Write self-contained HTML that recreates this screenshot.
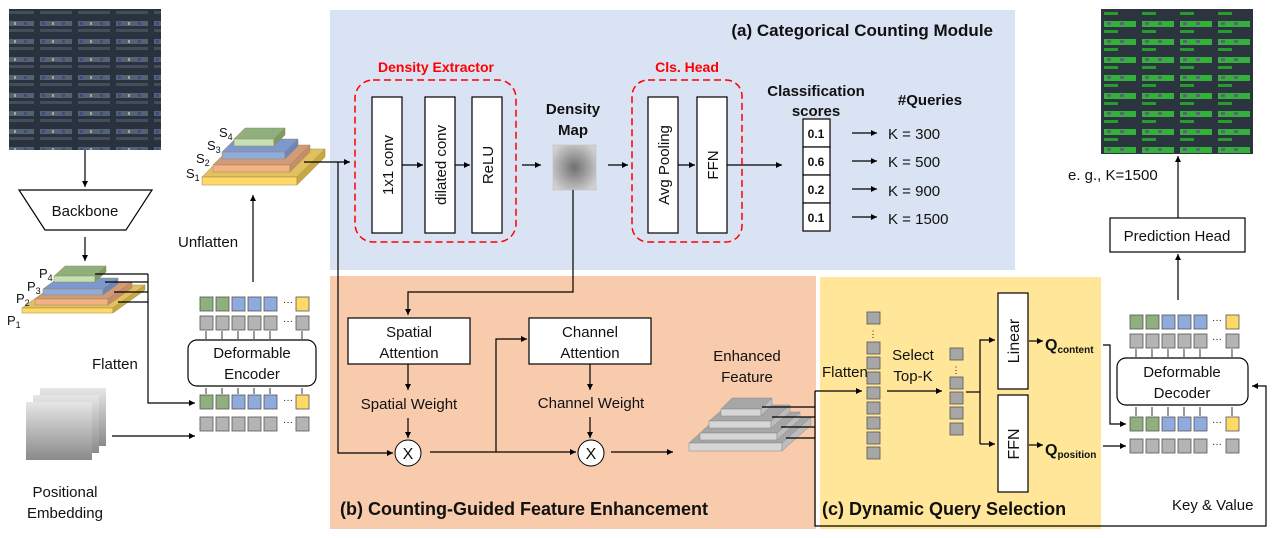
<!DOCTYPE html>
<html><head><meta charset="utf-8"><style>
html,body{margin:0;padding:0;background:#fff;}
svg{display:block;font-family:"Liberation Sans",sans-serif;font-size:14px;}
.t{font-family:"Liberation Sans",sans-serif;}
.b{font-weight:bold;}
</style></head><body>
<svg width="1275" height="538" viewBox="0 0 1275 538" xmlns="http://www.w3.org/2000/svg" fill="#111">
<defs>
<marker id="a" markerWidth="8" markerHeight="8" refX="6" refY="3" orient="auto" markerUnits="userSpaceOnUse"><path d="M0,0 L6,3 L0,6 z" fill="#000"/></marker>
<radialGradient id="dm" cx="0.5" cy="0.5" r="0.6"><stop offset="0" stop-color="#707070"/><stop offset="1" stop-color="#d0d0d0"/></radialGradient>
<linearGradient id="pe" x1="0" y1="0" x2="0" y2="1"><stop offset="0" stop-color="#e6e6e6"/><stop offset="1" stop-color="#8a8a8a"/></linearGradient>
<pattern id="sat" width="38" height="18" patternUnits="userSpaceOnUse"><rect width="38" height="18" fill="#2c3440"/><rect x="2" y="3" width="32" height="5" fill="#6a7482"/><rect x="4" y="4" width="3" height="3" fill="#3a5aa8"/><rect x="14" y="4" width="2" height="3" fill="#c8ccd0"/><rect x="24" y="4" width="3" height="3" fill="#3a5aa8"/><rect x="2" y="11" width="32" height="3" fill="#505866"/></pattern>
<pattern id="det" width="38" height="18" patternUnits="userSpaceOnUse"><rect width="38" height="18" fill="#303840"/><rect x="2" y="3" width="32" height="6" fill="#3ad43a"/><rect x="5" y="4" width="4" height="3" fill="#6a7482"/><rect x="18" y="4" width="4" height="3" fill="#6a7482"/><rect x="2" y="12" width="14" height="3" fill="#2bb82b"/></pattern>
</defs>

<rect x="330" y="10" width="685" height="260" fill="#dae3f3"/>
<rect x="330" y="276" width="486" height="253" fill="#f8cbad"/>
<rect x="820" y="277" width="281" height="252" fill="#ffe699"/>

<rect x="9" y="9" width="152" height="141" fill="url(#sat)"/>
<rect x="9" y="9" width="152" height="141" fill="#1e2a3a" opacity="0.25"/>
<line x1="85" y1="150" x2="85" y2="187" stroke="#000" stroke-width="1.2" marker-end="url(#a)"/>
<polygon points="19,190 152,190 126,230 45,230" fill="#fff" stroke="#000" stroke-width="1.2"/>
<text x="85" y="216" text-anchor="middle" font-size="15">Backbone</text>
<line x1="85" y1="237" x2="85" y2="261" stroke="#000" stroke-width="1.2" marker-end="url(#a)"/>

<g stroke="#9a8a50" stroke-width="0.5">
<polygon points="22,308 113,308 145,285 54,285" fill="#e0c060"/><rect x="22" y="308" width="91" height="5" fill="#ffd966"/><polygon points="113,308 145,285 145,290 113,313" fill="#c8a840"/>
<polygon points="35,299 108,299 132,282 59,282" fill="#d29a78"/><rect x="35" y="299" width="73" height="6" fill="#f4b183"/><polygon points="108,299 132,282 132,288 108,305" fill="#c88c68"/>
<polygon points="43,289 103,289 118,278 58,278" fill="#7d98cc"/><rect x="43" y="289" width="60" height="6" fill="#8faadc"/><polygon points="103,289 118,278 118,284 103,295" fill="#6a86c0"/>
<polygon points="54,276 95,276 106,266 65,266" fill="#8fb07e"/><rect x="54" y="276" width="41" height="6" fill="#c5e0b4"/><polygon points="95,276 106,266 106,272 95,282" fill="#7a9c6a"/>
</g>
<text x="7" y="325" font-size="13">P<tspan font-size="9" dy="3">1</tspan></text>
<text x="16" y="303" font-size="13">P<tspan font-size="9" dy="3">2</tspan></text>
<text x="27" y="291" font-size="13">P<tspan font-size="9" dy="3">3</tspan></text>
<text x="39" y="278" font-size="13">P<tspan font-size="9" dy="3">4</tspan></text>
<g stroke="#000" stroke-width="1.2" fill="none">
<polyline points="95,274 148,274"/><polyline points="105,282 148,282"/><polyline points="114,292 148,292"/><polyline points="118,302 148,302"/>
<polyline points="148,274 148,403 195,403" marker-end="url(#a)"/>
<line x1="112" y1="436" x2="195" y2="436" marker-end="url(#a)"/>
</g>
<text x="92" y="369" font-size="15">Flatten</text>

<rect x="40" y="388" width="66" height="58" fill="url(#pe)"/>
<rect x="33" y="395" width="66" height="58" fill="url(#pe)"/>
<rect x="26" y="402" width="66" height="58" fill="url(#pe)"/>
<text x="65" y="497" text-anchor="middle" font-size="15">Positional</text>
<text x="65" y="518" text-anchor="middle" font-size="15">Embedding</text>

<g stroke="#555" stroke-width="0.8">
<rect x="200" y="297" width="13" height="14" fill="#8fb07e"/><rect x="216" y="297" width="13" height="14" fill="#8fb07e"/><rect x="232" y="297" width="13" height="14" fill="#8faadc"/><rect x="248" y="297" width="13" height="14" fill="#8faadc"/><rect x="264" y="297" width="13" height="14" fill="#8faadc"/><rect x="296" y="297" width="13" height="14" fill="#ffd966"/>
<rect x="200" y="316" width="13" height="14" fill="#b4b4b4"/><rect x="216" y="316" width="13" height="14" fill="#b4b4b4"/><rect x="232" y="316" width="13" height="14" fill="#b4b4b4"/><rect x="248" y="316" width="13" height="14" fill="#b4b4b4"/><rect x="264" y="316" width="13" height="14" fill="#b4b4b4"/><rect x="296" y="316" width="13" height="14" fill="#b4b4b4"/>
<rect x="200" y="395" width="13" height="14" fill="#8fb07e"/><rect x="216" y="395" width="13" height="14" fill="#8fb07e"/><rect x="232" y="395" width="13" height="14" fill="#8faadc"/><rect x="248" y="395" width="13" height="14" fill="#8faadc"/><rect x="264" y="395" width="13" height="14" fill="#8faadc"/><rect x="296" y="395" width="13" height="14" fill="#ffd966"/>
<rect x="200" y="417" width="13" height="14" fill="#b4b4b4"/><rect x="216" y="417" width="13" height="14" fill="#b4b4b4"/><rect x="232" y="417" width="13" height="14" fill="#b4b4b4"/><rect x="248" y="417" width="13" height="14" fill="#b4b4b4"/><rect x="264" y="417" width="13" height="14" fill="#b4b4b4"/><rect x="296" y="417" width="13" height="14" fill="#b4b4b4"/>
</g>
<text x="283" y="305" font-size="10">···</text><text x="283" y="324" font-size="10">···</text><text x="283" y="403" font-size="10">···</text><text x="283" y="425" font-size="10">···</text>
<rect x="188" y="340" width="128" height="46" rx="9" fill="#fff" stroke="#000" stroke-width="1.2"/>
<text x="252" y="358" text-anchor="middle" font-size="15">Deformable</text>
<text x="252" y="379" text-anchor="middle" font-size="15">Encoder</text>
<g stroke="#000" stroke-width="0.8">
<line x1="206" y1="394" x2="206" y2="388"/><line x1="222" y1="394" x2="222" y2="388"/><line x1="238" y1="394" x2="238" y2="388"/><line x1="254" y1="394" x2="254" y2="388"/><line x1="270" y1="394" x2="270" y2="388"/><line x1="302" y1="394" x2="302" y2="388"/>
<line x1="206" y1="339" x2="206" y2="331"/><line x1="222" y1="339" x2="222" y2="331"/><line x1="238" y1="339" x2="238" y2="331"/><line x1="254" y1="339" x2="254" y2="331"/><line x1="270" y1="339" x2="270" y2="331"/><line x1="302" y1="339" x2="302" y2="331"/>
</g>
<line x1="253" y1="282" x2="253" y2="195" stroke="#000" stroke-width="1.2" marker-end="url(#a)"/>
<text x="178" y="247" font-size="15">Unflatten</text>

<g stroke="#9a8a50" stroke-width="0.5">
<polygon points="202,177 297,177 325,149 230,149" fill="#e0c060"/><rect x="202" y="177" width="95" height="8" fill="#ffd966"/><polygon points="297,177 325,149 325,157 297,185" fill="#c8a840"/>
<polygon points="213,165 290,165 310,145 233,145" fill="#d29a78"/><rect x="213" y="165" width="77" height="7" fill="#f4b183"/><polygon points="290,165 310,145 310,152 290,172" fill="#c88c68"/>
<polygon points="222,152 285,152 298,139 235,139" fill="#7d98cc"/><rect x="222" y="152" width="63" height="7" fill="#8faadc"/><polygon points="285,152 298,139 298,146 285,159" fill="#6a86c0"/>
<polygon points="234,139 274,139 285,128 245,128" fill="#8fb07e"/><rect x="234" y="139" width="40" height="7" fill="#c5e0b4"/><polygon points="274,139 285,128 285,135 274,146" fill="#7a9c6a"/>
</g>
<text x="186" y="178" font-size="13">S<tspan font-size="9" dy="3">1</tspan></text>
<text x="196" y="163" font-size="13">S<tspan font-size="9" dy="3">2</tspan></text>
<text x="207" y="150" font-size="13">S<tspan font-size="9" dy="3">3</tspan></text>
<text x="219" y="137" font-size="13">S<tspan font-size="9" dy="3">4</tspan></text>
<g stroke="#000" stroke-width="1.2" fill="none">
<polyline points="304,162 350,162" marker-end="url(#a)"/>
<polyline points="338,162 338,453 393,453" marker-end="url(#a)"/>
</g>

<text class="b" x="993" y="36" text-anchor="end" font-size="17">(a) Categorical Counting Module</text>
<text class="b" x="436" y="72" text-anchor="middle" font-size="14" fill="#f00">Density Extractor</text>
<rect x="355" y="80" width="161" height="162" rx="18" fill="none" stroke="#f00" stroke-width="1.5" stroke-dasharray="7,4"/>
<g fill="#fff" stroke="#000" stroke-width="1.2">
<rect x="372" y="97" width="30" height="136"/><rect x="425" y="97" width="30" height="136"/><rect x="472" y="97" width="30" height="136"/>
<rect x="648" y="97" width="30" height="136"/><rect x="697" y="97" width="30" height="136"/>
</g>
<text transform="translate(393,165) rotate(-90)" text-anchor="middle" font-size="15">1x1 conv</text>
<text transform="translate(446,165) rotate(-90)" text-anchor="middle" font-size="15">dilated conv</text>
<text transform="translate(493,165) rotate(-90)" text-anchor="middle" font-size="15">ReLU</text>
<text transform="translate(669,165) rotate(-90)" text-anchor="middle" font-size="15">Avg Pooling</text>
<text transform="translate(718,165) rotate(-90)" text-anchor="middle" font-size="15">FFN</text>
<g stroke="#000" stroke-width="1.2">
<line x1="402" y1="165" x2="423" y2="165" marker-end="url(#a)"/><line x1="455" y1="165" x2="470" y2="165" marker-end="url(#a)"/>
<line x1="522" y1="165" x2="541" y2="165" marker-end="url(#a)"/><line x1="608" y1="165" x2="628" y2="165" marker-end="url(#a)"/>
<line x1="678" y1="165" x2="695" y2="165" marker-end="url(#a)"/><line x1="727" y1="165" x2="782" y2="165" marker-end="url(#a)"/>
</g>
<text class="b" x="573" y="114" text-anchor="middle" font-size="15">Density</text>
<text class="b" x="573" y="135" text-anchor="middle" font-size="15">Map</text>
<rect x="553" y="145" width="43" height="45" fill="url(#dm)" stroke="#bbb" stroke-width="0.5"/>
<text class="b" x="687" y="72" text-anchor="middle" font-size="14" fill="#f00">Cls. Head</text>
<rect x="632" y="80" width="110" height="162" rx="16" fill="none" stroke="#f00" stroke-width="1.5" stroke-dasharray="7,4"/>
<text class="b" x="816" y="96" text-anchor="middle" font-size="15">Classification</text>
<text class="b" x="816" y="116" text-anchor="middle" font-size="15">scores</text>
<text class="b" x="930" y="105" text-anchor="middle" font-size="15">#Queries</text>
<g fill="#fff" stroke="#000" stroke-width="1.2">
<rect x="803" y="119" width="27" height="28"/><rect x="803" y="147" width="27" height="28"/><rect x="803" y="175" width="27" height="28"/><rect x="803" y="203" width="27" height="28"/>
</g>
<text class="b" x="816" y="138" text-anchor="middle" font-size="12">0.1</text><text class="b" x="816" y="166" text-anchor="middle" font-size="12">0.6</text><text class="b" x="816" y="194" text-anchor="middle" font-size="12">0.2</text><text class="b" x="816" y="222" text-anchor="middle" font-size="12">0.1</text>
<g stroke="#000" stroke-width="1.2">
<line x1="852" y1="133" x2="877" y2="133" marker-end="url(#a)"/><line x1="852" y1="161" x2="877" y2="161" marker-end="url(#a)"/><line x1="852" y1="189" x2="877" y2="189" marker-end="url(#a)"/><line x1="852" y1="217" x2="877" y2="217" marker-end="url(#a)"/>
</g>
<text x="888" y="139" font-size="15">K = 300</text><text x="888" y="167" font-size="15">K = 500</text><text x="888" y="196" font-size="15">K = 900</text><text x="888" y="224" font-size="15">K = 1500</text>

<polyline points="573,190 573,292 408,292 408,315" fill="none" stroke="#000" stroke-width="1.2" marker-end="url(#a)"/>
<rect x="348" y="318" width="122" height="46" fill="#fff" stroke="#000" stroke-width="1.2"/>
<text x="409" y="337" text-anchor="middle" font-size="15">Spatial</text>
<text x="409" y="358" text-anchor="middle" font-size="15">Attention</text>
<line x1="408" y1="364" x2="408" y2="390" stroke="#000" stroke-width="1.2" marker-end="url(#a)"/>
<text x="409" y="409" text-anchor="middle" font-size="15">Spatial Weight</text>
<line x1="408" y1="418" x2="408" y2="438" stroke="#000" stroke-width="1.2" marker-end="url(#a)"/>
<circle cx="408" cy="453" r="13" fill="#fff" stroke="#000"/>
<text x="408" y="459" text-anchor="middle" font-size="16">X</text>
<rect x="529" y="318" width="122" height="46" fill="#fff" stroke="#000" stroke-width="1.2"/>
<text x="590" y="337" text-anchor="middle" font-size="15">Channel</text>
<text x="590" y="358" text-anchor="middle" font-size="15">Attention</text>
<line x1="590" y1="364" x2="590" y2="390" stroke="#000" stroke-width="1.2" marker-end="url(#a)"/>
<text x="591" y="408" text-anchor="middle" font-size="15">Channel Weight</text>
<line x1="590" y1="417" x2="590" y2="438" stroke="#000" stroke-width="1.2" marker-end="url(#a)"/>
<circle cx="591" cy="453" r="13" fill="#fff" stroke="#000"/>
<text x="591" y="459" text-anchor="middle" font-size="16">X</text>
<g stroke="#000" stroke-width="1.2" fill="none">
<line x1="430" y1="452" x2="576" y2="452" marker-end="url(#a)"/>
<polyline points="496,452 496,339 527,339" marker-end="url(#a)"/>
<line x1="611" y1="452" x2="673" y2="452" marker-end="url(#a)"/>
</g>
<text x="747" y="361" text-anchor="middle" font-size="15">Enhanced</text>
<text x="747" y="382" text-anchor="middle" font-size="15">Feature</text>
<g stroke="#888" stroke-width="0.5">
<polygon points="689,443 782,443 811,417 718,417" fill="#a6a6a6"/><rect x="689" y="443" width="93" height="8" fill="#d6d6d6"/><polygon points="782,443 811,417 811,425 782,451" fill="#bdbdbd"/>
<polygon points="700,433 777,433 800,412 723,412" fill="#a6a6a6"/><rect x="700" y="433" width="77" height="7" fill="#d6d6d6"/><polygon points="777,433 800,412 800,419 777,440" fill="#bdbdbd"/>
<polygon points="709,421 771,421 790,405 728,405" fill="#a6a6a6"/><rect x="709" y="421" width="62" height="7" fill="#d6d6d6"/><polygon points="771,421 790,405 790,412 771,428" fill="#bdbdbd"/>
<polygon points="721,409 761,409 772,398 732,398" fill="#a6a6a6"/><rect x="721" y="409" width="40" height="7" fill="#d6d6d6"/><polygon points="761,409 772,398 772,405 761,416" fill="#bdbdbd"/>
</g>
<g stroke="#000" stroke-width="1.2" fill="none">
<line x1="762" y1="407" x2="815" y2="407"/><line x1="772" y1="417" x2="815" y2="417"/><line x1="781" y1="427" x2="815" y2="427"/><line x1="786" y1="438" x2="815" y2="438"/>
<polyline points="815,391 815,526 1266,526 1266,386 1252,386" marker-end="url(#a)"/>
<line x1="815" y1="391" x2="862" y2="391" marker-end="url(#a)"/>
</g>
<text class="b" x="340" y="515" font-size="18">(b) Counting-Guided Feature Enhancement</text>
<text x="822" y="377" font-size="15">Flatten</text>

<g fill="#a6a6a6" stroke="#555" stroke-width="0.8">
<rect x="867" y="312" width="13" height="12"/>
<rect x="867" y="342" width="13" height="12"/><rect x="867" y="357" width="13" height="12"/><rect x="867" y="372" width="13" height="12"/><rect x="867" y="387" width="13" height="12"/><rect x="867" y="402" width="13" height="12"/><rect x="867" y="417" width="13" height="12"/><rect x="867" y="432" width="13" height="12"/><rect x="867" y="447" width="13" height="12"/>
<rect x="950" y="348" width="13" height="12"/><rect x="950" y="377" width="13" height="12"/><rect x="950" y="392" width="13" height="12"/><rect x="950" y="407" width="13" height="12"/><rect x="950" y="423" width="13" height="12"/>
</g>
<text x="873" y="337" text-anchor="middle" font-size="9">⋮</text>
<text x="956" y="373" text-anchor="middle" font-size="9">⋮</text>
<text x="913" y="360" text-anchor="middle" font-size="15">Select</text>
<text x="913" y="381" text-anchor="middle" font-size="15">Top-K</text>
<g stroke="#000" stroke-width="1.2" fill="none">
<line x1="887" y1="391" x2="942" y2="391" marker-end="url(#a)"/>
<polyline points="966,392 980,392"/>
<polyline points="980,444 980,340 995,340" marker-end="url(#a)"/>
<line x1="980" y1="444" x2="995" y2="444" marker-end="url(#a)"/>
<line x1="1029" y1="341" x2="1043" y2="341" marker-end="url(#a)"/>
<line x1="1029" y1="445" x2="1043" y2="445" marker-end="url(#a)"/>
<polyline points="1103,345 1110,345 1110,424 1126,424" marker-end="url(#a)"/>
<line x1="1103" y1="446" x2="1126" y2="446" marker-end="url(#a)"/>
</g>
<rect x="998" y="293" width="30" height="96" fill="#fff" stroke="#000" stroke-width="1.2"/>
<rect x="998" y="395" width="30" height="97" fill="#fff" stroke="#000" stroke-width="1.2"/>
<text transform="translate(1019,341) rotate(-90)" text-anchor="middle" font-size="16">Linear</text>
<text transform="translate(1019,444) rotate(-90)" text-anchor="middle" font-size="16">FFN</text>
<text class="b" x="1045" y="350" font-size="16">Q<tspan font-size="10" dy="3">content</tspan></text>
<text class="b" x="1045" y="455" font-size="16">Q<tspan font-size="10" dy="3">position</tspan></text>
<text class="b" x="822" y="515" font-size="18">(c) Dynamic Query Selection</text>

<g stroke="#555" stroke-width="0.8">
<rect x="1130" y="315" width="13" height="14" fill="#8fb07e"/><rect x="1146" y="315" width="13" height="14" fill="#8fb07e"/><rect x="1162" y="315" width="13" height="14" fill="#8faadc"/><rect x="1178" y="315" width="13" height="14" fill="#8faadc"/><rect x="1194" y="315" width="13" height="14" fill="#8faadc"/><rect x="1226" y="315" width="13" height="14" fill="#ffd966"/>
<rect x="1130" y="334" width="13" height="14" fill="#b4b4b4"/><rect x="1146" y="334" width="13" height="14" fill="#b4b4b4"/><rect x="1162" y="334" width="13" height="14" fill="#b4b4b4"/><rect x="1178" y="334" width="13" height="14" fill="#b4b4b4"/><rect x="1194" y="334" width="13" height="14" fill="#b4b4b4"/><rect x="1226" y="334" width="13" height="14" fill="#b4b4b4"/>
<rect x="1130" y="417" width="13" height="14" fill="#8fb07e"/><rect x="1146" y="417" width="13" height="14" fill="#8fb07e"/><rect x="1162" y="417" width="13" height="14" fill="#8faadc"/><rect x="1178" y="417" width="13" height="14" fill="#8faadc"/><rect x="1194" y="417" width="13" height="14" fill="#8faadc"/><rect x="1226" y="417" width="13" height="14" fill="#ffd966"/>
<rect x="1130" y="439" width="13" height="14" fill="#b4b4b4"/><rect x="1146" y="439" width="13" height="14" fill="#b4b4b4"/><rect x="1162" y="439" width="13" height="14" fill="#b4b4b4"/><rect x="1178" y="439" width="13" height="14" fill="#b4b4b4"/><rect x="1194" y="439" width="13" height="14" fill="#b4b4b4"/><rect x="1226" y="439" width="13" height="14" fill="#b4b4b4"/>
</g>
<text x="1212" y="323" font-size="10">···</text><text x="1212" y="342" font-size="10">···</text><text x="1212" y="425" font-size="10">···</text><text x="1212" y="447" font-size="10">···</text>
<rect x="1117" y="358" width="131" height="47" rx="9" fill="#fff" stroke="#000" stroke-width="1.2"/>
<text x="1182" y="377" text-anchor="middle" font-size="15">Deformable</text>
<text x="1182" y="398" text-anchor="middle" font-size="15">Decoder</text>
<g stroke="#000" stroke-width="0.8">
<line x1="1136" y1="416" x2="1136" y2="407"/><line x1="1152" y1="416" x2="1152" y2="407"/><line x1="1168" y1="416" x2="1168" y2="407"/><line x1="1184" y1="416" x2="1184" y2="407"/><line x1="1200" y1="416" x2="1200" y2="407"/><line x1="1232" y1="416" x2="1232" y2="407"/>
<line x1="1136" y1="357" x2="1136" y2="349"/><line x1="1152" y1="357" x2="1152" y2="349"/><line x1="1168" y1="357" x2="1168" y2="349"/><line x1="1184" y1="357" x2="1184" y2="349"/><line x1="1200" y1="357" x2="1200" y2="349"/><line x1="1232" y1="357" x2="1232" y2="349"/>
</g>
<text x="1172" y="510" font-size="15">Key &amp; Value</text>
<line x1="1178" y1="300" x2="1178" y2="254" stroke="#000" stroke-width="1.2" marker-end="url(#a)"/>
<rect x="1110" y="218" width="135" height="34" fill="#fff" stroke="#000" stroke-width="1.2"/>
<text x="1177" y="241" text-anchor="middle" font-size="15">Prediction Head</text>
<line x1="1178" y1="218" x2="1178" y2="156" stroke="#000" stroke-width="1.2" marker-end="url(#a)"/>
<text x="1068" y="180" font-size="15">e. g., K=1500</text>
<rect x="1101" y="9" width="152" height="145" fill="url(#det)"/>
<rect x="1101" y="9" width="152" height="145" fill="#1e2a3a" opacity="0.2"/>
</svg>
</body></html>
